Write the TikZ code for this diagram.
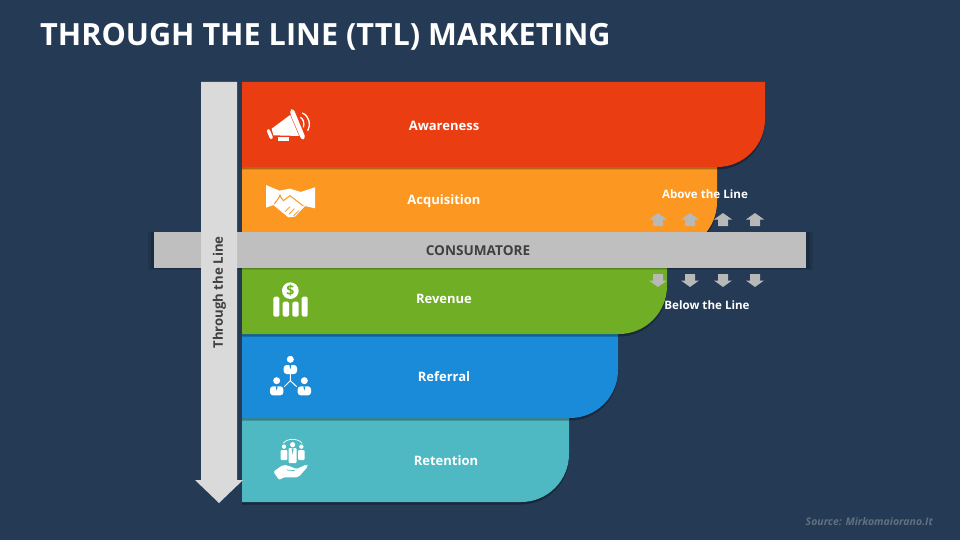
\documentclass[tikz,border=0pt]{standalone}
\usepackage{fontspec}
\setmainfont{Open Sans}
\usepackage{tikz}
\usetikzlibrary{shadows}
\usetikzlibrary{positioning}
\definecolor{bgc}{HTML}{243A55}
\definecolor{cred}{HTML}{EB3D12}
\definecolor{cora}{HTML}{FC9722}
\definecolor{cgrn}{HTML}{6FAE25}
\definecolor{cblu}{HTML}{1A8BD8}
\definecolor{ctea}{HTML}{4FB9C3}
\definecolor{cband}{HTML}{BFBFBF}
\definecolor{cvert}{HTML}{DADADA}
\definecolor{csmall}{HTML}{B8B8B8}
\definecolor{ctxt}{HTML}{404040}
\definecolor{csrc}{HTML}{62707F}

\begin{document}
\begin{tikzpicture}[x=1pt,y=-1pt]
        \tikzstyle{lbl}=[text=white, font=\fontsize{13}{15}\selectfont\bfseries]
        \tikzstyle{side}=[text=white, font=\fontsize{11.6}{14}\selectfont\bfseries]
        \tikzstyle{barshade}=[drop shadow={shadow xshift=0pt, shadow yshift=-2.5pt, opacity=0.3, fill=black}]
        \tikzstyle{ico}=[fill=white, draw=none]
        \tikzstyle{small}=[fill=csmall, draw=none]

        % one step of the stack, rounded at its lower right corner
        \newcommand{\stepbar}[4]{\fill[#4,barshade] (242,#2) -- (#1,#2) -- (#1,#3-48) arc[start angle=0,end angle=90,x radius=48pt,y radius=-48pt] -- (242,#3) -- cycle;}

        \path[use as bounding box, fill=bgc] (0,0) rectangle (960,540);

        \node (title) at (40,37) [anchor=west, inner sep=0pt, text=white, font=\fontsize{30.6}{34}\selectfont\bfseries]{THROUGH THE LINE (TTL) MARKETING};

        \stepbar{569}{418}{502}{ctea}
        \stepbar{618}{334}{418}{cblu}
        \stepbar{667}{250}{334}{cgrn}
        \stepbar{717}{167}{250}{cora}
        \stepbar{765}{82}{167}{cred}

        \node (aw) at (444,126) [lbl]{Awareness};
        \node (ac) at (444,201) [lbl]{Acquisition};
        \node (re) at (444,299) [lbl]{Revenue};
        \node (rf) at (444,377) [lbl]{Referral};
        \node (rt) at (446,461) [lbl]{Retention};

        % megaphone
        \begin{scope}[shift={(240,80)},scale=1/3]
            \fill[ico] (95,146) -- (153,103) -- (183,168) -- (100,166) -- cycle;
            \fill[ico,rounded corners=3pt] (148,92) -- (160,85) -- (197,174) -- (185,181) -- cycle;
            \draw[cred,line width=0.4pt] (148,97) -- (182,177);
            \fill[ico,rounded corners=2pt] (79,150) -- (88,146) -- (100,175) -- (91,179) -- cycle;
            \fill[ico] (113,170) rectangle (147,183);
            \draw[white,line width=1.3pt] (181,112) .. controls (190,116) and (194,130) .. (190,142);
            \draw[white,line width=1.3pt] (187,99) .. controls (208,108) and (214,135) .. (203,152);
        \end{scope}

        % handshake
        \begin{scope}[shift={(240,80)},scale=1/3]
            \fill[ico] (78,315) -- (118,332) -- (150,326) -- (182,336) -- (225,322) -- (225,385) -- (195,378) -- (165,410) -- (145,412) -- (100,375) -- (78,383) -- cycle;
            \draw[cora,line width=1pt] (118,345) -- (130,362) -- (150,347) -- (190,378);
            \draw[cora,line width=1pt] (103,372) -- (122,345);
            \draw[cora,line width=0.8pt] (135,395) -- (150,380) (147,403) -- (163,386) (160,408) -- (177,392);
        \end{scope}

        % money and columns
        \begin{scope}[shift={(240,270)},scale=1/3]
            \fill[ico] (151,62) circle[radius=25];
            \node (dollar) at (151,62) [text=cgrn, font=\fontsize{14}{14}\selectfont\bfseries]{\$};
            \fill[ico,rounded corners=1.5pt] (100,80) rectangle (118,140);
            \fill[ico,rounded corners=1.5pt] (128,95) rectangle (147,140);
            \fill[ico,rounded corners=1.5pt] (157,95) rectangle (176,140);
            \fill[ico,rounded corners=1.5pt] (185,80) rectangle (203,140);
        \end{scope}

        % three linked people
        \begin{scope}[shift={(240,270)},scale=1/3]
            \foreach \x/\y in {151/268,110/332,193/332}{
                \fill[ico] (\x,\y) circle[radius=10.5];
                \fill[ico,rounded corners=3pt] (\x-20,\y+44) -- (\x-20,\y+17) -- (\x+20,\y+17) -- (\x+20,\y+44) -- cycle;
                \fill[cblu] (\x-3,\y+17) -- (\x+3,\y+17) -- (\x,\y+30) -- cycle;
            }
            \draw[white,line width=1pt] (151,312) -- (151,332) -- (133,350);
            \draw[white,line width=1pt] (151,332) -- (170,350);
        \end{scope}

        % people over a hand
        \begin{scope}[shift={(240,420)},scale=1/3]
            \draw[white,line width=0.7pt] (130,70) .. controls (140,54) and (176,54) .. (186,70);
            \foreach \x/\y/\w/\h in {132/80/10/30,184/80/10/30,158/74/12/45}{
                \fill[ico] (\x,\y) circle[radius=\w*0.65];
                \fill[ico,rounded corners=1pt] (\x-\w,\y+10) rectangle (\x+\w,\y+10+\h);
            }
            \fill[ctea] (155,85) -- (161,85) -- (158,105) -- cycle;
            \fill[ico,rounded corners=2pt] (100,155) -- (130,134) -- (155,140) -- (168,148) -- (200,133) -- (205,138) -- (175,172) -- (128,172) -- (118,181) -- cycle;
            \draw[ctea,line width=0.7pt] (140,150) -- (165,152);
        \end{scope}

        % small arrows
        \foreach \x in {658,690,723,755}{
            \fill[small] (\x,213) -- (\x+9,219.5) -- (\x+5,219.5) -- (\x+5,226) -- (\x-5,226) -- (\x-5,219.5) -- (\x-9,219.5) -- cycle;
            \fill[small] (\x,287) -- (\x+9,280.5) -- (\x+5,280.5) -- (\x+5,274) -- (\x-5,274) -- (\x-5,280.5) -- (\x-9,280.5) -- cycle;
        }

        \node (above) at (705,194) [side]{Above the Line};
        \node (below) at (707,305) [side]{Below the Line};

        % band and soft edge
        \fill[black,opacity=0.1] (148,232) rectangle (813,270);
        \fill[black,opacity=0.15] (151,232) rectangle (810,269);
        \node (band) at (480,250) [fill=cband, minimum width=652pt, minimum height=36pt, inner sep=0pt]{};
        \node (cons) at (478,250.5) [text=ctxt, font=\fontsize{13.6}{16}\selectfont\bfseries]{CONSUMATORE};

        % vertical arrow
        \fill[cvert] (201,82) -- (237,82) -- (237,480) -- (243,480) -- (219,503) -- (195,480) -- (201,480) -- cycle;
        \node (vert) at (219.5,292.5) [rotate=90, text=ctxt, font=\fontsize{13.2}{16}\selectfont\bfseries]{Through the Line};

        \node (src) at (933,521.5) [anchor=east, inner sep=0pt, text=csrc, font=\fontsize{10.5}{12}\selectfont\bfseries\itshape]{Source: Mirkomaiorano.It};
\end{tikzpicture}
\end{document}
